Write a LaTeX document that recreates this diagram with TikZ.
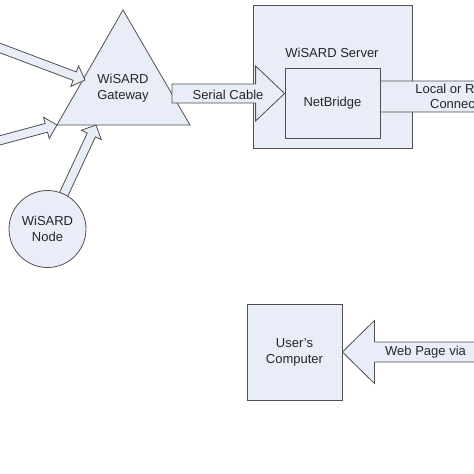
\documentclass[tikz,border=0pt]{standalone}
\usepackage{fontspec}
\setmainfont{Liberation Sans}
\usetikzlibrary{calc}
\definecolor{boxfill}{HTML}{E8EDF7}
\definecolor{edgecol}{HTML}{505050}
\tikzset{
  shapebox/.style={draw=edgecol, fill=boxfill, line width=0.8pt},
  barrow/.style={draw=edgecol, fill=boxfill, line width=0.8pt, line join=miter},
  lbl/.style={font=\fontsize{13}{16}\selectfont, align=center, inner sep=0pt, text=black!85},
}
% start, tip, half body, half head, head length
\newcommand{\blockarrow}[5]{%
  \coordinate (ba-h) at ($(#2)!#5!(#1)$);
  \draw[barrow] ($(#1)!#3!90:(#2)$) -- ($(ba-h)!#3!90:(#2)$) -- ($(ba-h)!#4!90:(#2)$)
    -- (#2) -- ($(ba-h)!#4!-90:(#2)$) -- ($(ba-h)!#3!-90:(#2)$) -- ($(#1)!#3!-90:(#2)$) -- cycle;
}
\begin{document}
\begin{tikzpicture}[x=1pt, y=-1pt]
\useasboundingbox (0,0) rectangle (474,474);
\clip (0,0) rectangle (474,474);

% WiSARD Server
\node[shapebox, minimum width=159pt, minimum height=143pt, inner sep=0pt] (server) at (332.5,76.5) {};
\node[lbl] (serverlbl) at (332,53) {WiSARD Server};
\node[shapebox, lbl, minimum width=95pt, minimum height=70pt] (nb) at (332.5,103) {NetBridge};

% Gateway triangle
\coordinate (gwtop) at (123,10);
\coordinate (gwleft) at (57,125);
\coordinate (gwright) at (190,125);
\draw[shapebox] (gwtop) -- (gwleft) -- (gwright) -- cycle;

% User's computer
\node[shapebox, lbl, minimum width=95pt, minimum height=96pt] (uc) at (294.5,352) {User's\\Computer};

% incoming arrows to gateway
\coordinate (a1s) at (-12,43.5);
\coordinate (a1t) at (85,80);
\blockarrow{a1s}{a1t}{4.5pt}{11pt}{11pt}
\coordinate (a2s) at (-12,143.5);
\blockarrow{a2s}{gwleft}{4.5pt}{11pt}{11pt}

% WiSARD node
\coordinate (a3t) at (96,125);
\node[circle, minimum size=77pt, inner sep=0pt] (wn) at (47.5,229) {};
\blockarrow{wn.center}{a3t}{4.5pt}{11pt}{11pt}
\node[shapebox, lbl, circle, minimum size=77pt] (wnode) at (47.5,229) {WiSARD\\Node};

% Gateway label
\node[lbl] (gw) at (123,88) {WiSARD\\Gateway};

% Serial cable
\coordinate (scs) at (172,93.5);
\coordinate (sct) at (nb.west |- 0,93.5);
\blockarrow{scs}{sct}{9.5pt}{27.5pt}{29pt}
\node[lbl] (sclbl) at (228,95) {Serial Cable};

% Local or remote connection
\coordinate (lcs) at (nb.east |- 0,96.5);
\coordinate (lct) at (600,96.5);
\blockarrow{lcs}{lct}{15.5pt}{30pt}{30pt}
\node[lbl, font=\fontsize{13}{14.5}\selectfont] (lclbl) at (463,96.5) {Local or Remote\\Connection};

% Web page
\coordinate (wps) at (560,352);
\blockarrow{wps}{uc.east}{10pt}{31.5pt}{32pt}
\node[lbl, anchor=west] (wplbl) at (385,352) {Web Page via};
\end{tikzpicture}
\end{document}
